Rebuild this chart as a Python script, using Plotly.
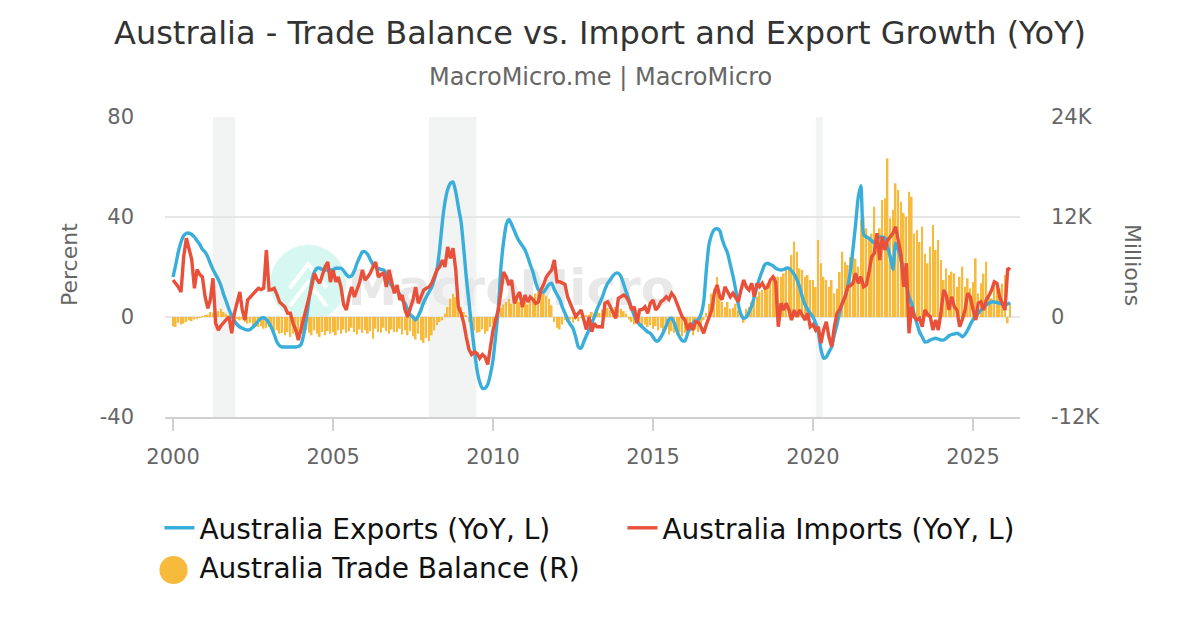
import pandas as pd
import plotly.graph_objects as go

# ---------------- data (monthly, Jan 2000 - Mar 2026) ----------------
exports_yoy = [
    16, 21, 26, 30, 32.5, 33.5, 33.5, 33, 32, 30.5, 29, 27,            # 2000
    26, 24, 21.5, 19, 17, 15, 12.5, 9, 6, 3, 0.5, -1.5,                # 2001
    -3, -4, -4.5, -5, -5.2, -5, -4, -3, -1.5, -0.5, -0.3, -1,          # 2002
    -2.5, -4.5, -7, -10, -11.5, -12, -12, -12, -12, -12, -12, -11.8,   # 2003
    -11, -7, -1, 7, 14, 18, 19.5, 19.5, 19, 18.8, 18.8, 18.8,          # 2004
    19, 19.5, 19.5, 19.5, 18.5, 17, 16.1, 16.5, 18.5, 21.5, 24, 26,    # 2005
    26.1, 25, 23, 21, 20, 19.5, 19, 18.8, 17, 14, 12.5, 11,            # 2006
    10.8, 9, 7, 5.5, 3, 1, 0, -1.2, 0.5, 2.8, 6, 8,                    # 2007
    10, 12, 15, 19, 27, 38, 46, 51, 53.5, 54, 50, 44,                  # 2008
    38, 27, 16, 6, -4, -13, -21, -26, -28.5, -28.5, -27, -23,          # 2009
    -17, -7, 3, 20, 30, 37, 39, 37, 34.5, 32, 30, 28.5,                # 2010
    26.8, 24, 21, 18, 14, 11, 10, 10, 11.5, 13, 13.5, 11,              # 2011
    9, 7, 4, 1.5, -1, -3, -4.5, -8, -12, -12.5, -10, -7.5,             # 2012
    -5.2, -2.5, 0, 3, 5.5, 8, 11, 13.5, 15, 16.5, 17.5, 17.5,          # 2013
    16.1, 13, 10, 7, 3.5, 0.5, -1.5, -3, -4, -5, -6, -6.5,             # 2014
    -8, -9.5, -9.5, -8, -6, -3.5, -1, -0.5, -2.5, -5.5, -8, -9.5,      # 2015
    -9.5, -6.5, -4, -2.5, -1.5, -1, 1, 6, 19, 29, 33, 35,              # 2016
    35.3, 34.5, 31, 28, 25.5, 21, 16.5, 11, 5, 1, -0.5, 0,             # 2017
    2, 4.5, 8, 12, 15.5, 18.5, 21, 21.5, 21, 20.5, 19.5, 19,           # 2018
    18.8, 19, 19.5, 19.5, 18.5, 17, 15, 12, 8, 5, 3, 1.5,              # 2019
    0, -2.5, -6, -13, -16.5, -16, -14, -12, -7, -3, 2, 5.5,            # 2020
    8, 12, 18, 27, 37, 48, 52.5, 33, 32, 31.5, 30.5, 29.5,             # 2021
    31, 32, 32, 31.5, 28, 24, 19, 29.5, 27, 23, 18, 13.5,              # 2022
    8, 5.5, 1, -2.5, -6, -8, -10, -9.9, -9.2, -8.8, -8.5, -8.8,        # 2023
    -9.2, -9.2, -8.5, -7.5, -7, -6.8, -6.5, -7, -7.9, -7, -5.2, -3,    # 2024
    -1, 0.5, 1.5, 2.8, 3.8, 4.8, 5.5, 6.1, 6, 5.8, 5.5, 5,             # 2025
    4.8, 5.2, 5.7,                                                     # 2026
]

imports_yoy = [
    14.8, 13.5, 12, 10, 24, 31.5, 27, 23, 11.5, 19, 17, 16,            # 2000
    8, 3.5, 6.8, 15.5, -2.5, -5.2, -3.5, -2, -1, 0, -6.5, 1.5,         # 2001
    6, 10, 2.8, -1.2, 6.8, 8, 9, 10, 11.5, 11, 11.5, 26.8,             # 2002
    10.8, 11, 11.5, 9, 6, 5, 4, 1.5, 1.5, -2.5, -5, -9.2,              # 2003
    -5, -1, 3, 8, 12, 17.5, 15, 13.5, 17, 20, 22, 14,                  # 2004
    18.8, 14, 16, 12, 5, 2.8, 8, 12, 8, 11, 14, 18.8,                  # 2005
    14.8, 16, 17.5, 20, 22, 16, 17, 17.5, 12, 18.8, 14, 9.5,           # 2006
    12.8, 6.8, 8.8, 3, 0, 3.5, 6.8, 12, 5.5, 8, 10.8, 11.5,            # 2007
    12, 13.5, 16, 18.8, 20, 22.8, 20, 28, 23.5, 27.5, 18.8, 4,         # 2008
    1.5, -2.5, -8, -13, -15, -14, -14.5, -16.5, -15, -16, -19, -12,    # 2009
    -5.2, -1, 2.8, 10, 18, 16, 12.8, 14.8, 5.5, 8, 10, 4,              # 2010
    8.8, 6, 8, 7, 5.5, 6, 10.8, 13, 16, 17.5, 18.8, 22.8,              # 2011
    14.1, 14.1, 13.5, 13, 8, 5.5, 3, 0.1, 1.5, 2.8, -1, -5,            # 2012
    0.1, -5.9, -2.5, -3.9, -3.9, -4, 5.5, 6.1, 4.1, 2, -0.5, 7.5,      # 2013
    8.1, 8.8, 8, 6.1, 2.8, 4.1, -2.5, 2.8, 3, 4.1, 1.5, 5.5,           # 2014
    6.8, 2.8, 4, 6.1, 6.8, 8.1, 7, 9.5, 8.1, 5.5, 2.8, 0,              # 2015
    -1.2, -5.2, -2.5, -5.2, -1.9, -2, -3.9, -6.5, -3, 0.1, 2.8, 9.5,   # 2016
    12.8, 8.1, 7, 12.1, 10.1, 8.1, 9.5, 7.5, 6.1, 10.8, 14.8, 12,      # 2017
    10.8, 13.5, 8.1, 13.5, 12.1, 13.5, 11.5, 12, 14.8, 16.1, 14, -3.9, # 2018
    5.5, 2.8, 5.5, 3, -1.2, 2.8, 0.1, 2.8, 1, -1.2, 1.5, -3.9,         # 2019
    -3, -5.2, -3.9, -10.5, -5.2, -1.9, -8, -11.9, -3.9, 1.5, 3, 5.5,   # 2020
    8.1, 12.1, 12.5, 13.5, 17.5, 13.5, 16.1, 12.1, 12.8, 18, 24.1, 25.5,  # 2021
    33.5, 22.8, 32.1, 26.8, 30.8, 32, 33.5, 36.1, 30.8, 25, 12.1, 21.5,   # 2022
    -6.5, 4.1, 0.1, -1.2, -0.5, -3.9, 2.8, 1, 0.1, -5.2, -1.2, -5.2,   # 2023
    2, 10.8, 8.8, 2.8, 8.1, 4.1, 2.8, -3.9, -1, 2.8, 9.5, 8.1,         # 2024
    3, -1.2, 5.5, 6.1, 2.8, 6.8, 8.5, 10.8, 14.1, 13.5, 8, 5.5,        # 2025
    2.8, 19.5, 18.8,                                                   # 2026
]

trade_balance = [
    -1100, -1200, -700, -900, -800, -600, -400, -500, -300, -250, -100, 50,          # 2000
    200, 300, 600, 500, 900, 700, 1000, 600, 400, 200, -100, -300,                   # 2001
    -200, -400, -300, -600, -800, -700, -1000, -900, -1200, -1100, -1400, -1300,     # 2002
    -1200, -1500, -1800, -1600, -2000, -1900, -2200, -1800, -2400, -2000, -1700, -2100,  # 2003
    -1800, -2000, -1500, -1900, -2200, -1600, -2000, -2400, -1800, -2200, -1700, -2000,  # 2004
    -1800, -2200, -1600, -2000, -1500, -1900, -1700, -1300, -1800, -2100, -1500, -1900,  # 2005
    -1600, -2000, -1700, -2600, -1400, -1800, -1900, -1300, -1700, -2000, -1500, -1800,  # 2006
    -1800, -1400, -2100, -1600, -2200, -1700, -2300, -2700, -2000, -2800, -3100, -2500,  # 2007
    -2900, -2200, -1600, -1000, -600, -400, 400, 1200, 2200, 2800, 2400, 1800,       # 2008
    1200, 600, 200, -600, -1200, -1600, -1900, -1800, -1500, -2000, -1700, -1200,    # 2009
    -800, -400, 400, 1100, 1500, 1800, 2200, 1600, 2000, 2400, 1800, 2200,           # 2010
    1800, 1500, 2400, 2000, 2800, 3000, 2600, 2900, 2500, 2200, 1400, -600,          # 2011
    -1300, -1500, -900, -400, -600, -300, -700, -200, -500, -100, -400, 200,         # 2012
    300, 600, 400, 800, 500, 900, 700, 1100, 800, 600, 1200, 900,                    # 2013
    1000, 700, 400, -300, -600, -900, -700, -1100, -1300, -900, -1200, -1000,        # 2014
    -1400, -1100, -1600, -1300, -1800, -1500, -2100, -1700, -1900, -2200, -1800, -2300,  # 2015
    -1900, -2100, -1700, -2200, -1500, -1800, -1000, -400, 500, 1600, 2800, 3400,    # 2016
    4800, 2800, 1800, 1200, 1800, 1000, 1100, 1600, 800, 400, -700, 1000,            # 2017
    1240, 1800, 2640, 2440, 3040, 3240, 3600, 4040, 4440, 4840, 4840, 4840,          # 2018
    4840, 5240, 5640, 6040, 7440, 9040, 7840, 5840, 5640, 4840, 5040, 4440,          # 2019
    4440, 3600, 9240, 6440, 4840, 4440, 3640, 4440, 2840, 3400, 5400, 7840,          # 2020
    6640, 6240, 7200, 8640, 7000, 6040, 11640, 12000, 10640, 9500, 10000, 13240,     # 2021
    9800, 10640, 14040, 14240, 19040, 11840, 12840, 16040, 15240, 13840, 12500, 12040,  # 2022
    15040, 14440, 10040, 10440, 9000, 10840, 7600, 6440, 8440, 11040, 8040, 9240,    # 2023
    6840, 4440, 5840, 5040, 5440, 5240, 3640, 4840, 6040, 3640, 4640, 3440,          # 2024
    4200, 7040, 2840, 4040, 5200, 6640, 2840, 2240, 4440, 3640, 3440, 4000,          # 2025
    5040, -760, 1640,                                                                # 2026
]

recessions = [("2001-04-01", "2001-12-10"), ("2008-01-01", "2009-06-25"), ("2020-02-01", "2020-04-20")]

left_ticks = [-40, 0, 40, 80]
left_tick_text = ["-40", "0", "40", "80"]
right_ticks = [-12000, 0, 12000, 24000]
right_tick_text = ["-12K", "0", "12K", "24K"]

dates = pd.date_range("2000-01-01", periods=len(exports_yoy), freq="MS")

BLUE = "#3aaedb"
RED = "#e8503a"
GOLD = "#f6bb3d"
FONT = "DejaVu Sans"

fig = go.Figure()

fig.add_trace(go.Bar(
    x=dates, y=trade_balance, yaxis="y", marker=dict(color=GOLD, line=dict(width=0)),
    name="Australia Trade Balance (R)", showlegend=False,
))
fig.add_trace(go.Scatter(
    x=dates, y=exports_yoy, yaxis="y2", mode="lines",
    line=dict(color=BLUE, width=3.4, shape="spline", smoothing=0.6),
    name="Australia Exports (YoY, L)",
))
fig.add_trace(go.Scatter(
    x=dates, y=imports_yoy, yaxis="y2", mode="lines", line=dict(color=RED, width=3.4),
    name="Australia Imports (YoY, L)",
))
# legend entry for the bars (its round swatch is drawn as a shape below)
fig.add_trace(go.Scatter(
    x=[None], y=[None], yaxis="y2", mode="markers",
    marker=dict(color="rgba(0,0,0,0)", size=16, symbol="circle"),
    name="Australia Trade Balance (R)",
))

shapes = []
for a, b in recessions:
    shapes.append(dict(type="rect", xref="x", yref="paper", x0=a, x1=b, y0=0, y1=1,
                       fillcolor="#f2f3f3", line=dict(width=0), layer="below"))
# watermark
shapes.append(dict(type="circle", xref="paper", yref="paper", x0=0.123, x1=0.212, y0=0.32, y1=0.574,
                   fillcolor="#d3f7ee", line=dict(width=0), layer="below", opacity=0.9))
shapes.append(dict(type="path", xref="paper", yref="paper",
                   path="M 0.146 0.43 L 0.1675 0.51 L 0.189 0.43 M 0.146 0.37 L 0.1675 0.45 L 0.189 0.37",
                   line=dict(color="white", width=4), layer="below"))
shapes.append(dict(type="rect", xref="paper", yref="paper", x0=0.22, x1=0.59, y0=0.33, y1=0.56,
                   line=dict(width=0), fillcolor="rgba(0,0,0,0)", layer="below",
                   label=dict(text="<b>MacroMicro</b>", font=dict(family=FONT, size=50, color="#e8e8e8"))))
# round legend swatch for the trade balance
shapes.append(dict(type="circle", xref="paper", yref="paper", x0=-0.0065, x1=0.0265, y0=-0.557, y1=-0.463,
                   fillcolor=GOLD, line=dict(width=0), layer="above"))

fig.update_layout(
    width=1200, height=630,
    margin=dict(l=165, r=180, t=117, b=213),
    paper_bgcolor="white", plot_bgcolor="white",
    font=dict(family=FONT, color="#666666"),
    title=dict(text="Australia - Trade Balance vs. Import and Export Growth (YoY)",
               x=0.5, xanchor="center", xref="container", y=0.948, yanchor="middle", yref="container",
               font=dict(family=FONT, size=32, color="#333333")),
    bargap=0.3,
    showlegend=True,
    legend=dict(orientation="h", x=-0.0065, xanchor="left", y=-0.287, yanchor="top",
                font=dict(family=FONT, size=28, color="#111111"),
                entrywidth=418, entrywidthmode="pixels", bgcolor="rgba(0,0,0,0)",
                traceorder="normal", itemsizing="trace"),
    xaxis=dict(type="date", range=["1999-10-01", "2026-06-21"],
               tick0="2000-01-01", dtick="M60", tickformat="%Y",
               showgrid=False, showline=True, linecolor="#d0d0d0", linewidth=2,
               ticks="outside", ticklen=12, tickwidth=2, tickcolor="#d0d0d0",
               tickfont=dict(size=21, color="#666666"), ticklabelstandoff=8, zeroline=False),
    yaxis=dict(side="right", range=[-12000, 24000], tickvals=right_ticks, ticktext=right_tick_text,
               showgrid=True, gridcolor="#e6e6e6", gridwidth=2, zeroline=False, showline=False,
               tickfont=dict(size=21, color="#666666"), ticks="", ticklabelstandoff=30),
    yaxis2=dict(side="left", overlaying="y", range=[-40, 80], tickvals=left_ticks, ticktext=left_tick_text,
                showgrid=False, zeroline=False, showline=False,
                tickfont=dict(size=21, color="#666666"), ticks="", ticklabelstandoff=30),
    shapes=shapes,
    annotations=[
        dict(text="MacroMicro.me | MacroMicro", xref="paper", yref="paper", x=0.5088, y=1.133,
             showarrow=False, font=dict(family=FONT, size=24, color="#666666"), xanchor="center", yanchor="middle"),
        dict(text="Percent", xref="paper", yref="paper", x=-0.111, y=0.507, textangle=-90,
             showarrow=False, font=dict(family=FONT, size=22, color="#666666"), xanchor="center", yanchor="middle"),
        dict(text="Millions", xref="paper", yref="paper", x=1.131, y=0.507, textangle=90,
             showarrow=False, font=dict(family=FONT, size=22, color="#666666"), xanchor="center", yanchor="middle"),
    ],
)

fig.write_html("out.html")
